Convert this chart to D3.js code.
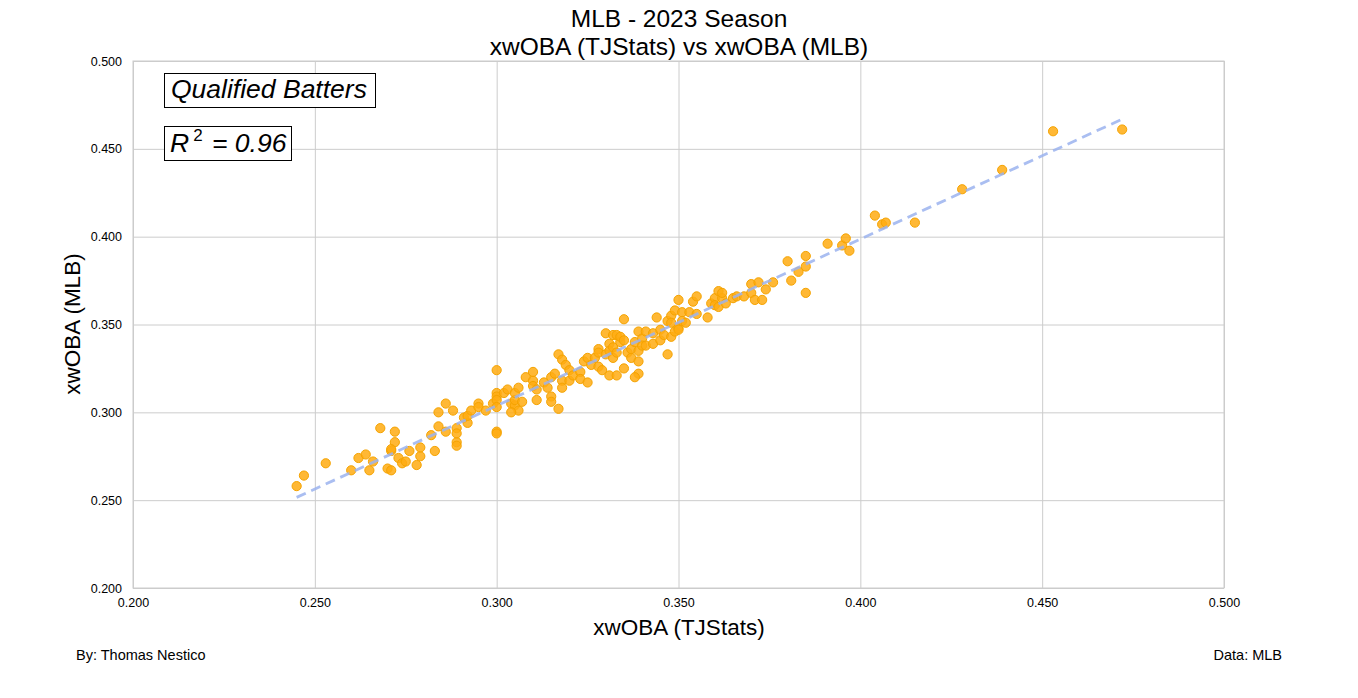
<!DOCTYPE html>
<html>
<head>
<meta charset="utf-8">
<script src="https://cdn.jsdelivr.net/npm/d3@7"></script>
<style>
  body { margin: 0; background: #fff; }
  svg { font-family: "Liberation Sans", Arial, sans-serif; }
</style>
</head>
<body>
<div id="chart"></div>
<script>
// xwOBA (TJStats) vs xwOBA (MLB)
const tjstats = [
  0.245, 0.247, 0.253, 0.260, 0.262, 0.264, 0.265, 0.266, 0.268, 0.270, 0.271, 0.271, 0.272, 0.272, 0.271,
  0.273, 0.274, 0.275, 0.276, 0.278, 0.279, 0.279, 0.282, 0.283, 0.284, 0.284, 0.286, 0.286, 0.288, 0.289,
  0.289, 0.289, 0.289, 0.291, 0.292, 0.292, 0.293, 0.295, 0.295, 0.297, 0.300, 0.300, 0.300, 0.300, 0.300,
  0.299, 0.300, 0.300, 0.302, 0.303, 0.304, 0.305, 0.306, 0.304, 0.305, 0.305, 0.306, 0.307, 0.308, 0.310,
  0.310, 0.310, 0.311, 0.311, 0.313, 0.314, 0.315, 0.316, 0.315, 0.315, 0.317, 0.317, 0.318, 0.318, 0.318,
  0.319, 0.320, 0.320, 0.321, 0.323, 0.323, 0.324, 0.325, 0.325, 0.326, 0.327, 0.328, 0.328, 0.328, 0.329,
  0.330, 0.330, 0.331, 0.331, 0.331, 0.332, 0.332, 0.332, 0.333, 0.333, 0.333, 0.334, 0.334, 0.335, 0.335,
  0.335, 0.336, 0.337, 0.337, 0.338, 0.339, 0.338, 0.339, 0.339, 0.339, 0.340, 0.340, 0.341, 0.341, 0.343,
  0.343, 0.344, 0.345, 0.345, 0.346, 0.347, 0.347, 0.348, 0.348, 0.348, 0.349, 0.349, 0.350, 0.350, 0.350,
  0.351, 0.351, 0.352, 0.353, 0.354, 0.355, 0.355, 0.358, 0.359, 0.360, 0.360, 0.361, 0.362, 0.361, 0.362,
  0.363, 0.365, 0.366, 0.368, 0.370, 0.370, 0.371, 0.372, 0.373, 0.374, 0.376, 0.380, 0.381, 0.383, 0.385,
  0.385, 0.385, 0.391, 0.395, 0.396, 0.397, 0.404, 0.406, 0.407, 0.415, 0.428, 0.439, 0.453, 0.472
];
const mlb = [
  0.258, 0.264, 0.271, 0.267, 0.274, 0.276, 0.267, 0.272, 0.291, 0.268, 0.267, 0.278, 0.289, 0.283, 0.279,
  0.274, 0.271, 0.272, 0.278, 0.270, 0.275, 0.280, 0.287, 0.278, 0.292, 0.300, 0.289, 0.305, 0.301, 0.283,
  0.281, 0.291, 0.288, 0.297, 0.294, 0.298, 0.301, 0.305, 0.303, 0.301, 0.289, 0.288, 0.324, 0.311, 0.309,
  0.305, 0.307, 0.303, 0.311, 0.313, 0.305, 0.304, 0.301, 0.300, 0.307, 0.311, 0.314, 0.306, 0.320, 0.318,
  0.323, 0.315, 0.313, 0.307, 0.317, 0.314, 0.320, 0.322, 0.309, 0.306, 0.302, 0.333, 0.330, 0.318, 0.314,
  0.327, 0.324, 0.318, 0.321, 0.323, 0.319, 0.329, 0.331, 0.317, 0.327, 0.331, 0.336, 0.326, 0.334, 0.324,
  0.333, 0.345, 0.339, 0.335, 0.321, 0.337, 0.344, 0.331, 0.334, 0.321, 0.344, 0.340, 0.343, 0.341, 0.325,
  0.353, 0.334, 0.331, 0.336, 0.340, 0.322, 0.320, 0.329, 0.335, 0.346, 0.342, 0.338, 0.338, 0.346, 0.345,
  0.339, 0.354, 0.341, 0.347, 0.344, 0.352, 0.333, 0.355, 0.351, 0.343, 0.358, 0.346, 0.348, 0.364, 0.347,
  0.357, 0.352, 0.351, 0.357, 0.363, 0.366, 0.356, 0.354, 0.362, 0.365, 0.361, 0.369, 0.365, 0.360, 0.368,
  0.362, 0.365, 0.366, 0.366, 0.373, 0.368, 0.364, 0.374, 0.364, 0.370, 0.374, 0.386, 0.375, 0.380, 0.383,
  0.368, 0.389, 0.396, 0.395, 0.399, 0.392, 0.412, 0.407, 0.408, 0.408, 0.427, 0.438, 0.460, 0.461
];
// dashed fit line ends
const fitX = [0.245, 0.472];
const fitY = [0.2516, 0.4669];

const tickValues = [0.200, 0.250, 0.300, 0.350, 0.400, 0.450, 0.500];

const width = 1358;
const height = 698;
const margin = { top: 61, right: 134, bottom: 110, left: 133 };

const svg = d3.select('#chart').append('svg')
  .attr('width', width)
  .attr('height', height);

const x = d3.scaleLinear()
  .domain([0.2, 0.5])
  .range([margin.left, width - margin.right]);

const y = d3.scaleLinear()
  .domain([0.2, 0.5])
  .range([height - margin.bottom, margin.top]);

const fmt = d3.format('.3f');

// grid
svg.append('g')
  .attr('transform', `translate(0,${height - margin.bottom})`)
  .call(d3.axisBottom(x).tickValues(tickValues).tickSize(-(height - margin.top - margin.bottom)).tickFormat(fmt).tickPadding(10))
  .call(g => g.select('.domain').remove())
  .call(g => g.selectAll('.tick line').attr('stroke', '#cccccc'))
  .call(g => g.selectAll('.tick text').attr('font-size', 12.5).attr('fill', '#000'));

svg.append('g')
  .attr('transform', `translate(${margin.left},0)`)
  .call(d3.axisLeft(y).tickValues(tickValues).tickSize(-(width - margin.left - margin.right)).tickFormat(fmt).tickPadding(11))
  .call(g => g.select('.domain').remove())
  .call(g => g.selectAll('.tick line').attr('stroke', '#cccccc'))
  .call(g => g.selectAll('.tick text').attr('font-size', 12.5).attr('fill', '#000'));

svg.append('rect')
  .attr('x', margin.left)
  .attr('y', margin.top)
  .attr('width', width - margin.left - margin.right)
  .attr('height', height - margin.top - margin.bottom)
  .attr('fill', 'none')
  .attr('stroke', '#cccccc');

// points
svg.append('g')
  .selectAll('circle')
  .data(tjstats)
  .join('circle')
  .attr('cx', d => x(d))
  .attr('cy', (d, i) => y(mlb[i]))
  .attr('r', 4.6)
  .attr('fill', '#ffab12')
  .attr('fill-opacity', 0.85)
  .attr('stroke', '#f5a300')
  .attr('stroke-width', 1);

// fit line
svg.append('line')
  .attr('x1', x(fitX[0]))
  .attr('y1', y(fitY[0]))
  .attr('x2', x(fitX[1]))
  .attr('y2', y(fitY[1]))
  .attr('stroke', '#9bb3ee')
  .attr('stroke-opacity', 0.85)
  .attr('stroke-width', 2.8)
  .attr('stroke-dasharray', '10,6');

// titles
svg.append('text')
  .attr('x', 679).attr('y', 27)
  .attr('text-anchor', 'middle')
  .attr('font-size', 24.5)
  .text('MLB - 2023 Season');

svg.append('text')
  .attr('x', 679).attr('y', 55)
  .attr('text-anchor', 'middle')
  .attr('font-size', 24.5)
  .text('xwOBA (TJStats) vs xwOBA (MLB)');

svg.append('text')
  .attr('x', 679).attr('y', 635)
  .attr('text-anchor', 'middle')
  .attr('font-size', 22.5)
  .text('xwOBA (TJStats)');

svg.append('text')
  .attr('transform', 'translate(80,324) rotate(-90)')
  .attr('text-anchor', 'middle')
  .attr('font-size', 22.5)
  .text('xwOBA (MLB)');

svg.append('text')
  .attr('x', 76).attr('y', 660)
  .attr('font-size', 14.5)
  .text('By: Thomas Nestico');

svg.append('text')
  .attr('x', 1282).attr('y', 660)
  .attr('text-anchor', 'end')
  .attr('font-size', 14.5)
  .text('Data: MLB');

// annotation boxes
svg.append('rect')
  .attr('x', 164.5).attr('y', 73.5).attr('width', 211).attr('height', 34)
  .attr('fill', '#fff').attr('stroke', '#000');
svg.append('text')
  .attr('x', 171).attr('y', 98)
  .attr('font-size', 26.5)
  .attr('font-style', 'italic')
  .text('Qualified Batters');

svg.append('rect')
  .attr('x', 164.5).attr('y', 126.5).attr('width', 127).attr('height', 34)
  .attr('fill', '#fff').attr('stroke', '#000');
const r2 = svg.append('text')
  .attr('x', 170).attr('y', 152)
  .attr('font-size', 26.5)
  .attr('font-style', 'italic');
r2.append('tspan').text('R');
r2.append('tspan').attr('dy', -11).attr('font-size', 17).attr('font-style', 'normal').attr('dx', 4).text('2');
r2.append('tspan').attr('dy', 11).attr('dx', 2).text(' = 0.96');
</script>
</body>
</html>
